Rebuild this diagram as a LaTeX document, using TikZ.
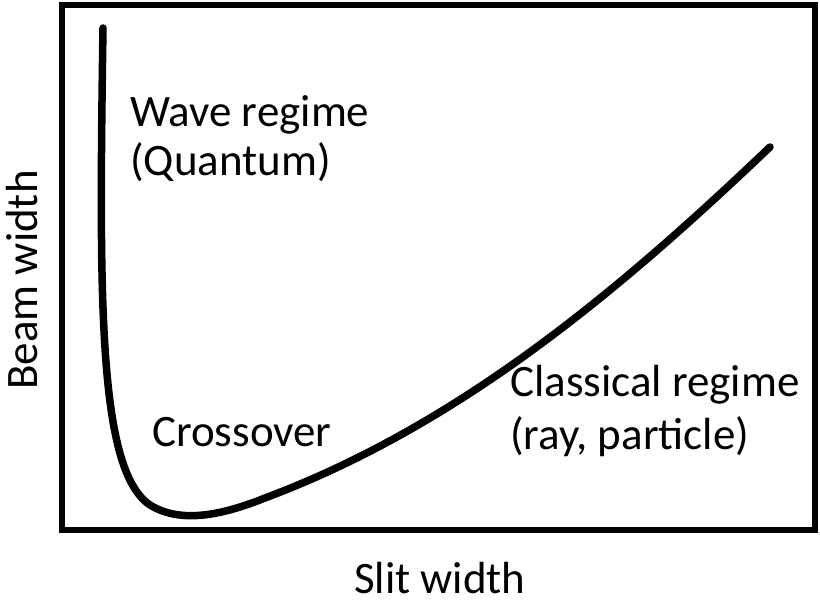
\documentclass[tikz,border=0pt]{standalone}
\usepackage{fontspec}
\setmainfont{Carlito}
\begin{document}
\begin{tikzpicture}[x=1pt,y=-1pt,
  lab/.style={font=\fontsize{45}{50}\selectfont,anchor=west,inner sep=0pt}]
\useasboundingbox (0,0) rectangle (820,604);
\draw[line width=6pt] (62,5) rectangle (815,530);
\draw[line width=7.5pt,line cap=round] (103,28) .. controls (99,300) and (98,470) .. (150,505)
  .. controls (178,522) and (215,518) .. (265,498)
  .. controls (460,425) and (620,290) .. (770,147);
\node[lab] (w1) at (130,115) {Wave regime};
\node[lab] (w2) at (130,162) {(Quantum)};
\node[lab] (c) at (152,432) {Crossover};
\node[lab] (k1) at (510,385) {Classical regime};
\node[lab] (k2) at (510,437) {(ray, particle)};
\node[lab,anchor=center] (x) at (440,578) {Slit width};
\node[lab,anchor=center,rotate=90] (y) at (22,280) {Beam width};
\end{tikzpicture}
\end{document}
